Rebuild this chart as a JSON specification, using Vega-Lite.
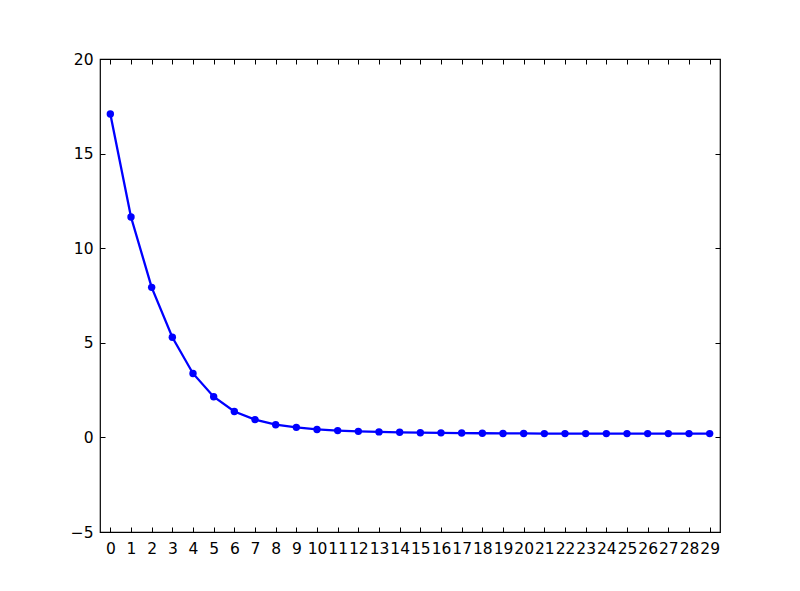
{
  "$schema": "https://vega.github.io/schema/vega-lite/v6.json",
  "width": 620,
  "height": 473,
  "autosize": {"type": "none"},
  "padding": {"left": 100, "top": 59, "right": 80, "bottom": 59},
  "background": "white",
  "config": {
    "view": {"stroke": "black", "strokeWidth": 1.2},
    "axis": {
      "labelFont": "DejaVu Sans",
      "labelFontSize": 15.5,
      "labelColor": "black",
      "domain": false,
      "grid": false,
      "tickColor": "black",
      "tickSize": -5,
      "tickWidth": 1,
      "title": null
    }
  },
  "data": {
    "values": [
      {"x": 0, "y": 17.09}, {"x": 1, "y": 11.65}, {"x": 2, "y": 7.93},
      {"x": 3, "y": 5.29}, {"x": 4, "y": 3.38}, {"x": 5, "y": 2.15},
      {"x": 6, "y": 1.37}, {"x": 7, "y": 0.94}, {"x": 8, "y": 0.67},
      {"x": 9, "y": 0.53}, {"x": 10, "y": 0.42}, {"x": 11, "y": 0.36},
      {"x": 12, "y": 0.32}, {"x": 13, "y": 0.29}, {"x": 14, "y": 0.27},
      {"x": 15, "y": 0.25}, {"x": 16, "y": 0.24}, {"x": 17, "y": 0.23},
      {"x": 18, "y": 0.22}, {"x": 19, "y": 0.21}, {"x": 20, "y": 0.21},
      {"x": 21, "y": 0.2}, {"x": 22, "y": 0.2}, {"x": 23, "y": 0.2},
      {"x": 24, "y": 0.2}, {"x": 25, "y": 0.2}, {"x": 26, "y": 0.2},
      {"x": 27, "y": 0.2}, {"x": 28, "y": 0.2}, {"x": 29, "y": 0.2}
    ]
  },
  "encoding": {
    "x": {
      "field": "x", "type": "quantitative",
      "scale": {"domain": [-0.5, 29.5], "nice": false, "zero": false},
      "axis": {"values": [0,1,2,3,4,5,6,7,8,9,10,11,12,13,14,15,16,17,18,19,20,21,22,23,24,25,26,27,28,29], "labelPadding": 14, "labelFlush": false, "labelOverlap": false}
    },
    "y": {
      "field": "y", "type": "quantitative",
      "scale": {"domain": [-5, 20], "nice": false},
      "axis": {"values": [-5, 0, 5, 10, 15, 20], "labelPadding": 12, "labelFlush": false, "labelOverlap": false}
    }
  },
  "layer": [
    {
      "mark": {"type": "line", "color": "#0000ff", "strokeWidth": 2.3, "point": {"filled": true, "color": "#0000ff", "size": 55, "opacity": 1}}
    },
    {
      "mark": {"type": "point", "opacity": 0},
      "encoding": {
        "x": {"field": "x", "type": "quantitative", "axis": {"orient": "top", "labels": false, "values": [0,1,2,3,4,5,6,7,8,9,10,11,12,13,14,15,16,17,18,19,20,21,22,23,24,25,26,27,28,29]}},
        "y": {"field": "y", "type": "quantitative", "axis": {"orient": "right", "labels": false, "values": [-5, 0, 5, 10, 15, 20]}}
      }
    }
  ],
  "resolve": {"axis": {"x": "independent", "y": "independent"}}
}
